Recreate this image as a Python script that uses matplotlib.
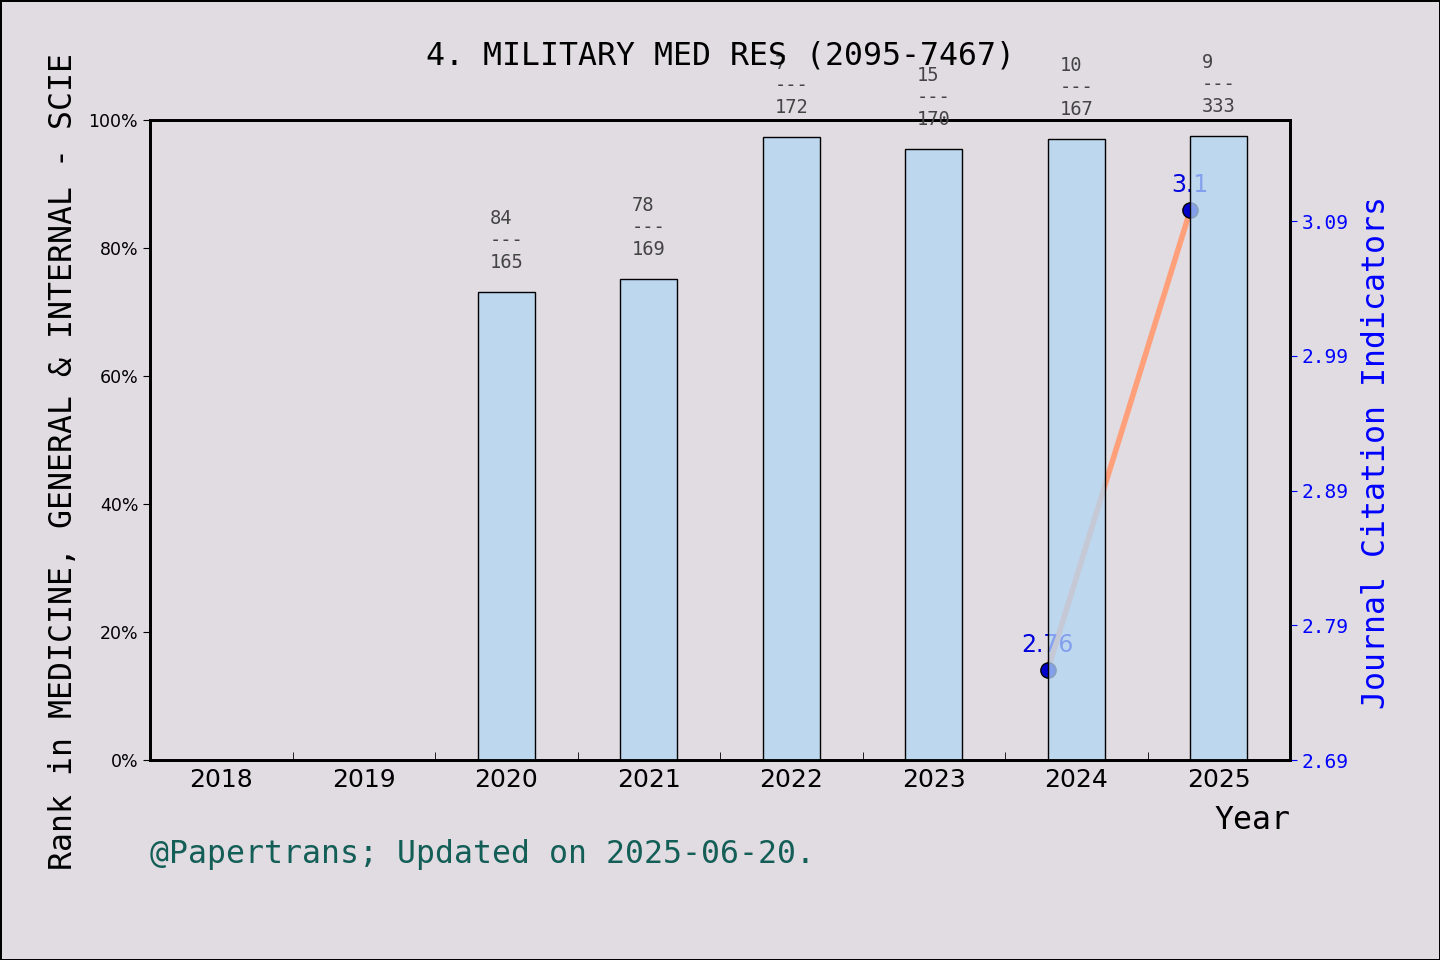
import numpy as np
import matplotlib.pyplot as plt

years = ['2018', '2019', '2020', '2021', '2022', '2023', '2024', '2025']
rank_pct = [np.nan, np.nan, 73.1, 75.2, 97.3, 95.5, 97.0, 97.5]
rank_labels = ['', '', '84\n---\n165', '78\n---\n169', '7\n---\n172',
               '15\n---\n170', '10\n---\n167', '9\n---\n333']
jci_idx = [6, 7]
jci_values = [2.757, 3.098]
jci_labels = ['2.76', '3.1']
jci_ticks = [2.69, 2.79, 2.89, 2.99, 3.09]

mono = 'DejaVu Sans Mono'
bg = '#e0dce2'
big = 22.7

fig = plt.figure(figsize=(14.4, 9.6), dpi=100, facecolor=bg,
                 edgecolor='black', linewidth=1)
ax = fig.add_axes([150 / 1440, 1 - 760 / 960, 1140 / 1440, 640 / 960])
ax2 = ax.twinx()
# bars sit on top of the JCI line, so put the left axes in front
ax.set_zorder(2)
ax2.set_zorder(1)
ax.patch.set_visible(False)
ax2.patch.set_facecolor('white')

x = np.arange(len(years))
h = np.array(rank_pct)
ok = np.isfinite(h)
ax.bar(x[ok], h[ok], width=0.4, color=(0.698, 0.839, 0.957, 0.75),
       edgecolor='black', linewidth=1)
for xi, hi, lab in zip(x[ok], h[ok], np.array(rank_labels)[ok]):
    ax.annotate(lab, (xi, hi), xytext=(0, 37), textcoords='offset points',
                ha='center', va='center', multialignment='left',
                fontsize=13.5, family=mono, color='#444444',
                annotation_clip=False)

# JCI line
xl = np.array(jci_idx) - 0.2
ax2.plot(xl, jci_values, color='#ffa07a', lw=4, marker='o', ms=11,
         mfc='#0000cd', mec='black', mew=1)
for xi, v, lab in zip(xl, jci_values, jci_labels):
    ax2.annotate(lab, (xi, v), xytext=(0, 18), textcoords='offset points',
                 ha='center', va='center', fontsize=17, color='#0000dd')

ax.set_xlim(-0.5, 7.5)
ax.set_ylim(0, 100)
ax.set_xticks(x)
ax.set_xticklabels(years, fontsize=18)
ax.set_xticks(x + 0.5, minor=True)
ax.tick_params(axis='x', which='major', length=0, pad=6)
ax.tick_params(axis='x', which='minor', direction='in', length=6)
ax.set_yticks(np.arange(0, 101, 20))
ax.set_yticklabels([f'{v}%' for v in range(0, 101, 20)], fontsize=12.5)
ax.tick_params(axis='y', direction='out', length=5)

ax2.set_ylim(2.69, 3.165)
ax2.set_yticks(jci_ticks)
ax2.set_yticklabels([f'{t:.2f}' for t in jci_ticks], fontsize=14,
                    family=mono, color='#0000ff')
ax2.tick_params(axis='y', colors='#0000ff', length=5)

for a in (ax, ax2):
    for s in a.spines.values():
        s.set_linewidth(2)
        s.set_color('black')

ax.set_ylabel('Rank in MEDICINE, GENERAL & INTERNAL - SCIE', fontsize=big,
              family=mono)
ax.yaxis.set_label_coords(-0.062, 0.466)
ax2.set_ylabel('Journal Citation Indicators', fontsize=big, family=mono,
               color='#0000ff')
ax2.yaxis.set_label_coords(1.062, 0.481)
ax.set_xlabel('Year', fontsize=big, family=mono, loc='right', labelpad=9)

fig.text(0.5, 1 - 56 / 960, '4. MILITARY MED RES (2095-7467)', ha='center',
         va='center', fontsize=big, family=mono)
fig.text(150 / 1440, 1 - 855 / 960, '@Papertrans; Updated on 2025-06-20.',
         ha='left', va='center', fontsize=big, family=mono, color='#135e56')

fig.savefig('out.png', dpi=100, facecolor=fig.get_facecolor(),
            edgecolor=fig.get_edgecolor())
